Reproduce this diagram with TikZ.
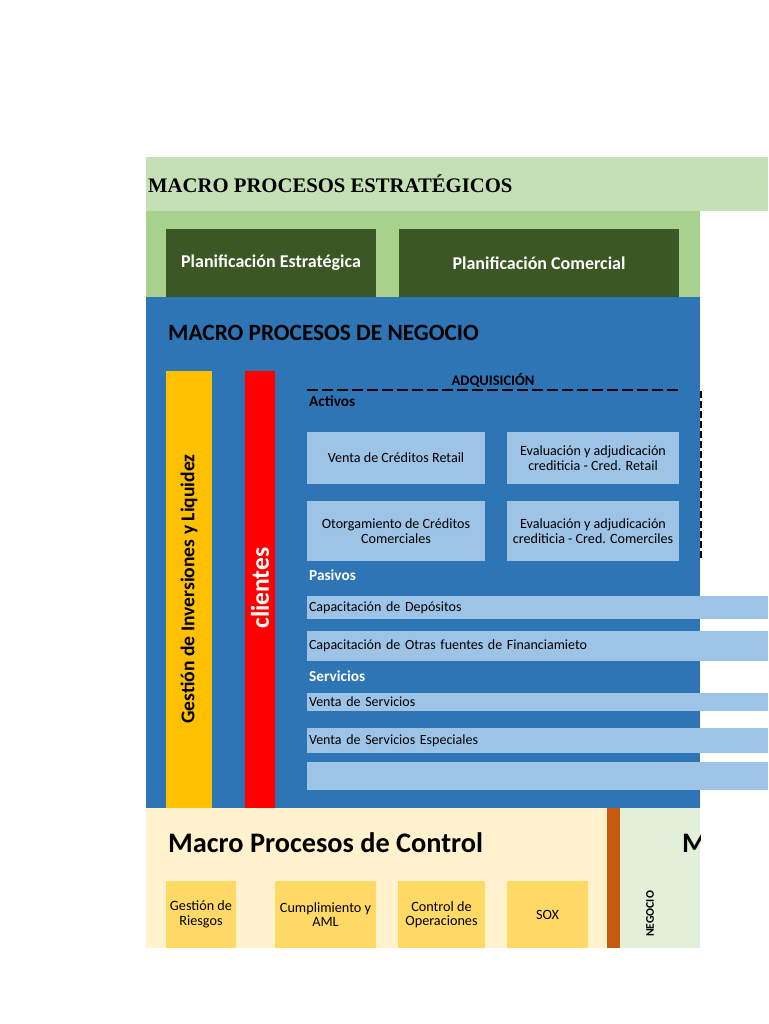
\documentclass[tikz,border=0pt]{standalone}
\usepackage{fontspec}
\setmainfont{Carlito}
\newfontfamily\titleserif{Liberation Serif}
\definecolor{topgreen}{HTML}{C5E0B4}
\definecolor{midgreen}{HTML}{A9D18E}
\definecolor{darkgreen}{HTML}{3A5724}
\definecolor{bizblue}{HTML}{2E75B6}
\definecolor{lightblue}{HTML}{9DC3E6}
\definecolor{goldbar}{HTML}{FFC000}
\definecolor{redbar}{HTML}{FF0000}
\definecolor{cream}{HTML}{FFF2CC}
\definecolor{yellowbox}{HTML}{FFD966}
\definecolor{rustbar}{HTML}{C55A11}
\definecolor{palegreen}{HTML}{E2F0D9}
\tikzset{
  plan/.style={fill=darkgreen, text=white, font=\bfseries\fontsize{18}{21}\selectfont, inner sep=0pt, outer sep=0pt, align=center},
  lbox/.style={fill=lightblue, text=black, font=\fontsize{14.1}{15}\selectfont, inner sep=0pt, outer sep=0pt, align=center},
  rowbar/.style={fill=lightblue, text=black, font=\fontsize{14}{15}\selectfont, inner ysep=0pt, inner xsep=2pt, outer sep=0pt, text width=457pt, align=left, anchor=west},
  ybox/.style={fill=yellowbox, text=black, font=\fontsize{14.2}{14.5}\selectfont, inner sep=0pt, outer sep=0pt, align=center},
  sublabel/.style={font=\bfseries\fontsize{15.3}{17}\selectfont, anchor=west, inner sep=0pt},
}
\begin{document}
\begin{tikzpicture}[x=1pt,y=-1pt]
\useasboundingbox (0,0) rectangle (768,1024);
% backgrounds
\fill[topgreen] (146,157) rectangle (768,211);
\fill[midgreen] (146,211) rectangle (700,297);
\fill[bizblue] (146,297) rectangle (700,808);
\fill[cream] (146,808) rectangle (607,948);
\fill[rustbar] (607,808) rectangle (620,948);
\fill[palegreen] (620,808) rectangle (700,948);
% titles
\node[anchor=west, inner sep=0pt, font=\titleserif\bfseries\fontsize{20.7}{22}\selectfont] (t1) at (148,184) {MACRO PROCESOS ESTRATÉGICOS};
\node[anchor=west, inner sep=0pt, font=\bfseries\fontsize{23.3}{26}\selectfont] (t2) at (168,333) {MACRO PROCESOS DE NEGOCIO};
\node[anchor=west, inner sep=0pt, font=\bfseries\fontsize{28.3}{32}\selectfont] (t3) at (168,843) {Macro Procesos de Control};
\begin{scope}
\clip (620,808) rectangle (700,948);
\node[anchor=west, inner sep=0pt, font=\bfseries\fontsize{28.3}{32}\selectfont] (t4) at (682,843) {M};
\end{scope}
% planning boxes
\node[plan, minimum width=210pt, minimum height=68pt] (pe) at (271,263) {Planificación Estratégica};
\node[plan, minimum width=280pt, minimum height=68pt] (pc) at (539,263) {Planificación Comercial};
% vertical bars
\node[fill=goldbar, minimum width=46pt, minimum height=437pt, inner sep=0pt, outer sep=0pt] (gil) at (189,589.5) {};
\node[rotate=90, font=\bfseries\fontsize{19.6}{22}\selectfont, text=black] (giltxt) at (189,589) {Gestión de Inversiones y Liquidez};
\node[fill=redbar, minimum width=30pt, minimum height=437pt, inner sep=0pt, outer sep=0pt] (cli) at (260,589.5) {};
\node[rotate=90, font=\bfseries\fontsize{25.5}{28}\selectfont, text=white] (clitxt) at (260,588) {clientes};
% adquisicion
\node[font=\bfseries\fontsize{14.5}{16}\selectfont, inner sep=0pt] (adq) at (493,380) {ADQUISICIÓN};
\coordinate (dl) at (307,390);
\coordinate (dr) at (679,390);
\draw[black, line width=1.8pt, dash pattern=on 11pt off 4pt] (dl) -- (dr);
\coordinate (vt) at (701,391);
\coordinate (vb) at (701,560);
\draw[white, line width=2.5pt] (vt) -- (vb);
\draw[black, line width=2.5pt, dash pattern=on 7pt off 3pt] (vt) -- (vb);
\node[sublabel, text=black] (act) at (309,401) {Activos};
% activos boxes
\node[lbox, minimum width=178pt, minimum height=52pt] (vcr) at (396,458) {Venta de Créditos Retail};
\node[lbox, minimum width=172pt, minimum height=52pt] (ecr) at (593,458) {Evaluación y adjudicación\\crediticia - Cred. Retail};
\node[lbox, minimum width=178pt, minimum height=60pt] (occ) at (396,531) {Otorgamiento de Créditos\\Comerciales};
\node[lbox, minimum width=172pt, minimum height=60pt] (ecc) at (593,531) {Evaluación y adjudicación\\crediticia - Cred. Comerciles};
% pasivos
\node[sublabel, text=white] (pas) at (309,575) {Pasivos};
\node[rowbar, minimum height=23pt] (cd) at (307,607.5) {Capacitación de Depósitos};
\node[rowbar, minimum height=30pt] (cof) at (307,646) {Capacitación de Otras fuentes de Financiamieto};
\node[sublabel, text=white] (ser) at (309,676) {Servicios};
\node[rowbar, minimum height=18pt] (vs) at (307,702) {Venta de Servicios};
\node[rowbar, minimum height=25pt] (vse) at (307,740.5) {Venta de Servicios Especiales};
\node[rowbar, minimum height=28pt] (emp) at (307,776) {};
% control boxes
\node[ybox, minimum width=70pt, minimum height=67pt] (gr) at (201,914.5) {Gestión de\\Riesgos};
\node[ybox, minimum width=101pt, minimum height=67pt] (aml) at (325.5,914.5) {Cumplimiento y\\AML};
\node[ybox, minimum width=87pt, minimum height=67pt] (cop) at (441.5,914.5) {Control de\\Operaciones};
\node[ybox, minimum width=81pt, minimum height=67pt] (sox) at (547.5,914.5) {SOX};
% negocio
\node[rotate=90, font=\bfseries\fontsize{11.7}{13}\selectfont, inner sep=0pt] (neg) at (650,914) {NEGOCIO};
\end{tikzpicture}
\end{document}
